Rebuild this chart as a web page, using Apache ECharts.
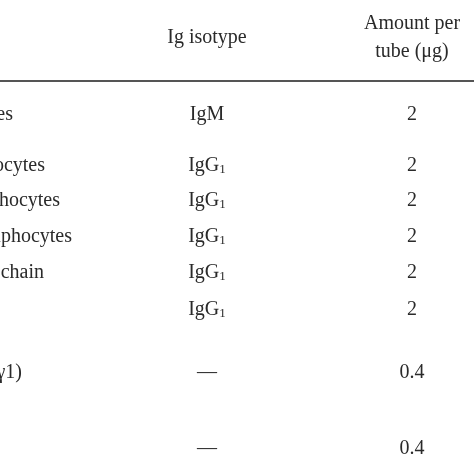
<!DOCTYPE html>
<html><head><meta charset="utf-8">
<script src="https://cdn.jsdelivr.net/npm/echarts@6/dist/echarts.min.js"></script>
<style>html,body{margin:0;background:#fff}#c{width:474px;height:474px}</style>
</head><body><div id="c"></div>
<script>
// table content (first column is cropped in the source image)
const antigens = ['B lymphocytes', 'T lymphocytes', 'CD4 lymphocytes', 'CD8 lymphocytes', 'Kappa light chain', '', 'Streptavidin (γ1)', ''];
const isotypes = ['IgM', 'IgG1', 'IgG1', 'IgG1', 'IgG1', 'IgG1', '—', '—'];
const amounts = ['2', '2', '2', '2', '2', '2', '0.4', '0.4'];
const rightEdge = [13, 45, 60, 72, 44, 0, 22, 0];
const rowY = [115, 166, 201, 237, 273, 310, 373, 449];

const font = '"Liberation Serif", "DejaVu Serif", serif';
const col = '#2a2a2a';
const els = [];
function txt(x, y, s, align) {
  const m = s.match(/^IgG(\d)$/);
  els.push({
    type: 'text', x: x, y: y,
    style: {
      text: m ? '{a|IgG}{s|' + m[1] + '}' : s,
      align: align, verticalAlign: 'middle',
      font: '20px ' + font, fill: col,
      rich: { a: { font: '20px ' + font, fill: col }, s: { font: '13px ' + font, fill: col, padding: [8, 0, 0, 0] } }
    }
  });
}
txt(207, 38, 'Ig isotype', 'center');
txt(412, 24, 'Amount per', 'center');
txt(412, 52, 'tube (μg)', 'center');
els.push({ type: 'rect', shape: { x: 0, y: 80, width: 474, height: 2 }, style: { fill: '#555' } });
rowY.forEach((y, i) => {
  if (antigens[i] && rightEdge[i]) txt(rightEdge[i], y, antigens[i], 'right');
  txt(207, y, isotypes[i], 'center');
  txt(412, y, amounts[i], 'center');
});
const chart = echarts.init(document.getElementById('c'));
chart.setOption({ backgroundColor: '#fff', graphic: els });
</script></body></html>
